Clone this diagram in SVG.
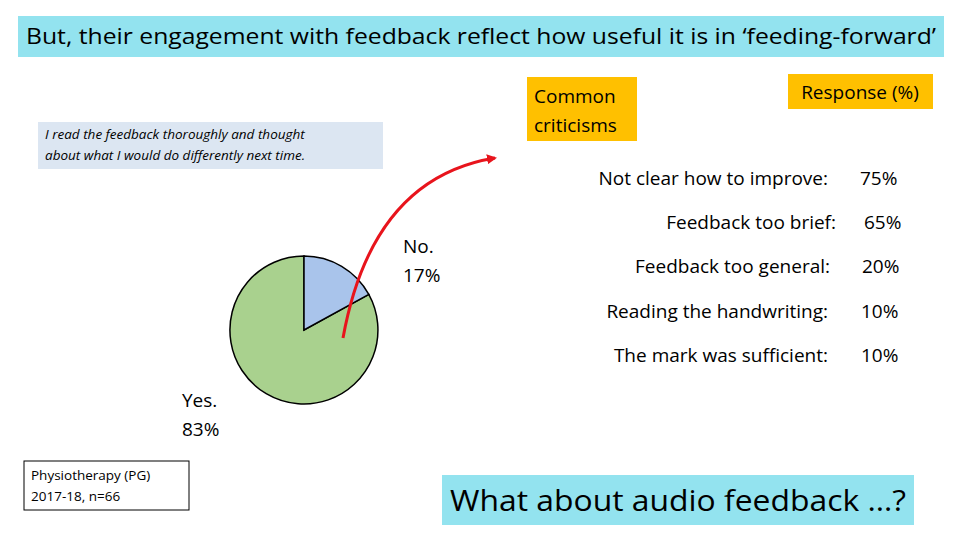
<svg xmlns="http://www.w3.org/2000/svg" width="960" height="540" viewBox="0 0 960 540">
<defs>
<style>
text{font-family:"Open Sans","Liberation Sans",sans-serif;fill:#000}
.r{font-size:19px}
</style>
<marker id="ah" markerWidth="10" markerHeight="10" refX="8" refY="5" orient="auto" markerUnits="userSpaceOnUse"><path d="M0,0 L10,5 L0,10 z" fill="#e8141c"/></marker>
</defs>
<rect width="960" height="540" fill="#fff"/>
<g id="title"><rect x="18" y="16" width="926" height="41" fill="#93e3ef"/>
<text x="481" y="44" font-size="22" text-anchor="middle" textLength="910" lengthAdjust="spacingAndGlyphs">But, their engagement with feedback reflect how useful it is in ‘feeding-forward’</text></g>
<g id="quote"><rect x="38" y="122" width="345" height="47" fill="#dce6f2"/>
<text x="45" y="139" font-size="13.5" font-style="italic">I read the feedback thoroughly and thought</text>
<text x="45" y="160" font-size="13.5" font-style="italic">about what I would do differently next time.</text></g>
<g id="common"><rect x="527" y="77" width="110" height="64" fill="#ffc000"/>
<text x="534" y="103" font-size="19">Common</text><text x="534" y="132" font-size="19">criticisms</text></g>
<g id="response"><rect x="788" y="74" width="145" height="35" fill="#ffc000"/>
<text x="860" y="99" font-size="19" text-anchor="middle">Response (%)</text></g>
<g id="table">
<text class="r" x="828" y="185" text-anchor="end">Not clear how to improve:</text><text class="r" x="860" y="185">75%</text>
<text class="r" x="836" y="229" text-anchor="end">Feedback too brief:</text><text class="r" x="864" y="229">65%</text>
<text class="r" x="830" y="273" text-anchor="end">Feedback too general:</text><text class="r" x="862" y="273">20%</text>
<text class="r" x="828" y="318" text-anchor="end">Reading the handwriting:</text><text class="r" x="861" y="318">10%</text>
<text class="r" x="828" y="362" text-anchor="end">The mark was sufficient:</text><text class="r" x="861" y="362">10%</text>
</g>
<g id="pie">
<path d="M304,330 L368.8,294.4 A74,74 0 1 1 304,256 Z" fill="#a9d18e" stroke="#000" stroke-width="1.5"/>
<path d="M304,330 L304,256 A74,74 0 0 1 368.8,294.4 Z" fill="#a9c4eb" stroke="#000" stroke-width="1.5"/>
</g>
<g id="no"><text x="403" y="253" font-size="19">No.</text><text x="403" y="282" font-size="19">17%</text></g>
<g id="yes"><text x="182" y="407" font-size="19">Yes.</text><text x="182" y="436" font-size="19">83%</text></g>
<g id="connectors"><path d="M343,338 Q372,178 495,158" fill="none" stroke="#e8141c" stroke-width="3" marker-end="url(#ah)"/></g>
<g id="physio"><rect x="24" y="461" width="165" height="49" fill="#fff" stroke="#000"/>
<text x="31" y="480" font-size="13.5">Physiotherapy (PG)</text><text x="31" y="501" font-size="13.5">2017-18,  n=66</text></g>
<g id="audio"><rect x="442" y="475" width="472" height="50" fill="#93e3ef"/>
<text x="450" y="511" font-size="29" textLength="456" lengthAdjust="spacingAndGlyphs">What about audio feedback …?</text></g>
</svg>
